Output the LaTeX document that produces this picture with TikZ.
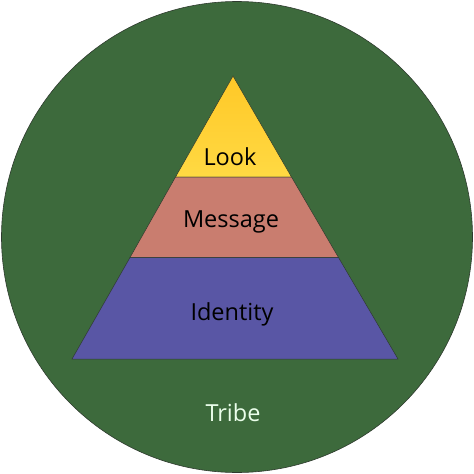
\documentclass[tikz,border=0pt]{standalone}
\usepackage{fontspec}
\setmainfont{Open Sans}
\definecolor{tribegreen}{HTML}{3D6A3C}
\definecolor{lookyellow}{HTML}{FFD52E}
\definecolor{msgpink}{HTML}{C97D6F}
\definecolor{idblue}{HTML}{5956A5}
\definecolor{edge}{HTML}{2E3A2E}
\begin{document}
\begin{tikzpicture}[x=1pt,y=-1pt,
  band/.style={draw=edge,line width=0.5pt},
  label/.style={font=\fontsize{23.5}{28}\selectfont,text=black,inner sep=0pt}]
\useasboundingbox (0,0) rectangle (474,474);
\node[circle,draw=edge,line width=0.6pt,fill=tribegreen,minimum size=471pt,inner sep=0pt] (tribe) at (237,237) {};
\coordinate (apex) at (233,76);
\coordinate (l1) at (175.5,177);
\coordinate (r1) at (291.5,177);
\coordinate (l2) at (130,257.5);
\coordinate (r2) at (338.5,257.5);
\coordinate (l3) at (72,359);
\coordinate (r3) at (398,359);
\draw[band,top color=lookyellow!85!orange,bottom color=lookyellow!90!white] (apex) -- (r1) -- (l1) -- cycle;
\draw[band,fill=msgpink] (l1) -- (r1) -- (r2) -- (l2) -- cycle;
\draw[band,fill=idblue] (l2) -- (r2) -- (r3) -- (l3) -- cycle;
\node[label] (look) at (230,157) {Look};
\node[label] (message) at (231,222) {Message};
\node[label] (identity) at (232,314) {Identity};
\node[label,text=white!92!green] (tribelabel) at (233,413) {Tribe};
\end{tikzpicture}
\end{document}
